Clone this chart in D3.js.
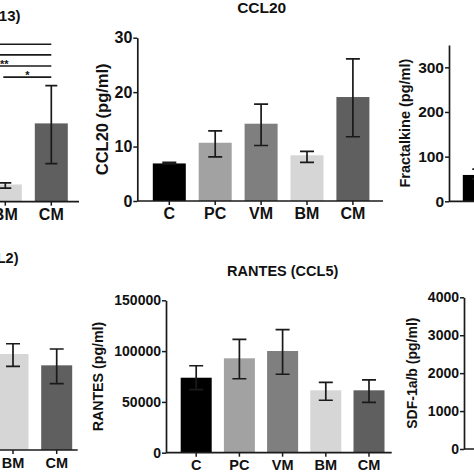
<!DOCTYPE html>
<html>
<head>
<meta charset="utf-8">
<script src="https://cdn.jsdelivr.net/npm/d3@7"></script>
<style>
  body { margin: 0; background: #fff; }
  svg { display: block; }
  text { font-family: "Liberation Sans", Arial, sans-serif; font-weight: bold; fill: #111; }
</style>
</head>
<body>
<svg width="474" height="474"></svg>
<script>
'use strict';

const groups = ["C", "PC", "VM", "BM", "CM"];

// BCA-1 (CXCL13), cropped on the left: only BM and CM are visible
const cxcl13Mean = [3.0, 3.6, 3.9, 4.2, 19.1];
const cxcl13Low  = [2.6, 3.1, 3.4, 3.3, 9.3];
const cxcl13High = [3.4, 4.1, 4.4, 4.6, 28.3];
const cxcl13Sig = [
    ["C", "CM", 38.4, "**"],
    ["PC", "CM", 35.8, "**"],
    ["VM", "CM", 33.1, "**"],
    ["BM", "CM", 30.4, "*"]
];

// CCL20
const ccl20Mean = [6.9, 10.7, 14.2, 8.4, 19.1];
const ccl20Low  = [6.8, 8.1, 10.2, 7.1, 11.8];
const ccl20High = [7.1, 12.9, 17.8, 9.1, 26.1];
const ccl20Ticks = [0, 10, 20, 30];

// Fractalkine, cropped on the right: only C is visible
const fkMean = [59, 66, 72, 63, 90];
const fkLow  = [50, 55, 60, 55, 70];
const fkHigh = [72, 77, 84, 71, 110];
const fkTicks = [0, 100, 200, 300];

// MCP-1 (CCL2), cropped on the left
const ccl2Mean = [1100, 1200, 1300, 1280, 1129];
const ccl2Low  = [950, 1050, 1120, 1116, 884];
const ccl2High = [1250, 1350, 1480, 1417, 1347];

// RANTES (CCL5)
const rantesMean = [73800, 92900, 100100, 61400, 61400];
const rantesLow  = [62000, 72800, 77200, 51600, 49600];
const rantesHigh = [85600, 111600, 121100, 69300, 71600];
const rantesTicks = [0, 50000, 100000, 150000];

// SDF-1a/b, bars fall outside the crop
const sdfMean = [1500, 1650, 1600, 1450, 1550];
const sdfLow  = [1300, 1450, 1400, 1250, 1350];
const sdfHigh = [1700, 1850, 1800, 1650, 1750];
const sdfTicks = [0, 1000, 2000, 3000, 4000];

const barColor = d3.scaleOrdinal()
    .domain(groups)
    .range(["#000000", "#a2a2a2", "#7f7f7f", "#d6d6d6", "#5f5f5f"]);

const svg = d3.select("svg");

function panel(p) {
    const n = groups.length;
    const pad = 1 - p.bw / p.step;
    const x = d3.scaleBand()
        .domain(groups)
        .range([p.c0 - p.step / 2, p.c0 + (n - 0.5) * p.step])
        .paddingInner(pad)
        .paddingOuter(pad / 2);
    const y = d3.scaleLinear()
        .domain([0, p.max])
        .range([p.y0, p.yTop]);

    const g = svg.append("g");

    g.append("g").selectAll("rect")
        .data(groups)
        .enter().append("rect")
        .attr("x", d => x(d))
        .attr("width", x.bandwidth())
        .attr("y", (d, i) => y(p.mean[i]))
        .attr("height", (d, i) => p.y0 - y(p.mean[i]))
        .attr("fill", d => barColor(d));

    g.append("g")
        .attr("stroke", "#1a1a1a")
        .attr("stroke-width", 1.7)
        .attr("fill", "none")
        .selectAll("path")
        .data(groups)
        .enter().append("path")
        .attr("d", (d, i) => {
            const cx = x(d) + x.bandwidth() / 2, w = p.cap;
            const hi = y(p.high[i]), lo = y(p.low[i]);
            return `M${cx - w},${hi}H${cx + w}M${cx},${hi}V${lo}M${cx - w},${lo}H${cx + w}`;
        });

    // x axis
    const xa = g.append("g")
        .attr("transform", `translate(0,${p.y0})`)
        .call(d3.axisBottom(x).tickSize(4).tickPadding(p.xPad));
    xa.select(".domain").remove();
    xa.selectAll("line").attr("stroke", "#1a1a1a").attr("stroke-width", 1.5);
    xa.selectAll("text").style("font-size", p.fs + "px").attr("fill", "#111");
    g.append("line")
        .attr("x1", p.axisX).attr("x2", p.axisEnd)
        .attr("y1", p.y0).attr("y2", p.y0)
        .attr("stroke", "#1a1a1a").attr("stroke-width", 1.7);

    // y axis
    const ya = g.append("g")
        .attr("transform", `translate(${p.axisX},0)`)
        .call(d3.axisLeft(y).tickValues(p.ticks).tickFormat(d3.format("d"))
            .tickSize(4).tickSizeOuter(0).tickPadding(1));
    ya.select(".domain").attr("stroke", "#1a1a1a").attr("stroke-width", 1.7);
    ya.selectAll("line").attr("stroke", "#1a1a1a").attr("stroke-width", 1.5);
    ya.selectAll("text").style("font-size", p.tfs + "px").attr("fill", "#111");

    // y label
    const ly = (p.y0 + p.yTop) / 2;
    g.append("text")
        .attr("transform", `translate(${p.axisX - p.labelOff},${ly}) rotate(-90)`)
        .attr("text-anchor", "middle")
        .attr("dy", "0.35em")
        .style("font-size", p.lfs + "px")
        .text(p.label);

    // title
    g.append("text")
        .attr("x", p.titleX)
        .attr("y", p.titleY)
        .attr("text-anchor", p.titleAnchor || "middle")
        .style("font-size", p.hfs + "px")
        .text(p.title);

    // significance brackets
    (p.sig || []).forEach(s => {
        const xa1 = x(s[0]) + x.bandwidth() / 2 - 2;
        const xa2 = x(s[1]) + x.bandwidth() / 2;
        g.append("line")
            .attr("x1", xa1).attr("x2", xa2)
            .attr("y1", y(s[2])).attr("y2", y(s[2]))
            .attr("stroke", "#1a1a1a").attr("stroke-width", 1.7);
        g.append("text")
            .attr("x", (xa1 + xa2) / 2)
            .attr("y", y(s[2]) + 2)
            .attr("text-anchor", "middle")
            .style("font-size", "11px")
            .text(s[3]);
    });
}

panel({ title: "BCA-1 (CXCL13)", titleX: 20.5, titleY: 20.7, titleAnchor: "end",
    label: "CXCL13 (pg/ml)", mean: cxcl13Mean, low: cxcl13Low, high: cxcl13High,
    ticks: [0, 10, 20, 30, 40], max: 40, sig: cxcl13Sig,
    fs: 16, tfs: 16, lfs: 16, hfs: 15, xPad: 3,
    axisX: -164, axisEnd: 79, y0: 201.7, yTop: 37.7, c0: -132.7, step: 46, bw: 33, cap: 6, labelOff: 35 });

panel({ title: "CCL20", titleX: 261.7, titleY: 13.3,
    label: "CCL20 (pg/ml)", mean: ccl20Mean, low: ccl20Low, high: ccl20High,
    ticks: ccl20Ticks, max: 30,
    fs: 16, tfs: 16, lfs: 16.5, hfs: 15.5, xPad: 3,
    axisX: 137.3, axisEnd: 383, y0: 201, yTop: 37.7, c0: 169.3, step: 45.9, bw: 33, cap: 7, labelOff: 34.6 });

panel({ title: "Fractalkine (CX3CL1)", titleX: 572, titleY: 13.3,
    label: "Fractalkine (pg/ml)", mean: fkMean, low: fkLow, high: fkHigh,
    ticks: fkTicks, max: 350,
    fs: 15, tfs: 15.5, lfs: 14.5, hfs: 15, xPad: 3,
    axisX: 449, axisEnd: 700, y0: 201.3, yTop: 45, c0: 479.3, step: 46, bw: 33, cap: 7, labelOff: 44 });

panel({ title: "MCP-1 (CCL2)", titleX: 18.5, titleY: 263, titleAnchor: "end",
    label: "MCP-1 (pg/ml)", mean: ccl2Mean, low: ccl2Low, high: ccl2High,
    ticks: [0, 500, 1000, 1500, 2000], max: 2000,
    fs: 14.5, tfs: 14, lfs: 14, hfs: 14.5, xPad: 4,
    axisX: -133, axisEnd: 77.7, y0: 450, yTop: 300, c0: -118.1, step: 43.7, bw: 31, cap: 7, labelOff: 50 });

panel({ title: "RANTES (CCL5)", titleX: 282.7, titleY: 276,
    label: "RANTES (pg/ml)", mean: rantesMean, low: rantesLow, high: rantesHigh,
    ticks: rantesTicks, max: 150000,
    fs: 14.5, tfs: 14, lfs: 14.2, hfs: 14.5, xPad: 3,
    axisX: 166, axisEnd: 391.7, y0: 452.7, yTop: 300.3, c0: 196.2, step: 43.2, bw: 31, cap: 7, labelOff: 67.7 });

panel({ title: "SDF-1a/b (CXCL12)", titleX: 590, titleY: 276,
    label: "SDF-1a/b (pg/ml)", mean: sdfMean, low: sdfLow, high: sdfHigh,
    ticks: sdfTicks, max: 4000,
    fs: 14.5, tfs: 14, lfs: 14, hfs: 14.5, xPad: 3,
    axisX: 464, axisEnd: 700, y0: 449, yTop: 297.3, c0: 496, step: 43.2, bw: 31, cap: 7, labelOff: 51.7 });
</script>
</body>
</html>
